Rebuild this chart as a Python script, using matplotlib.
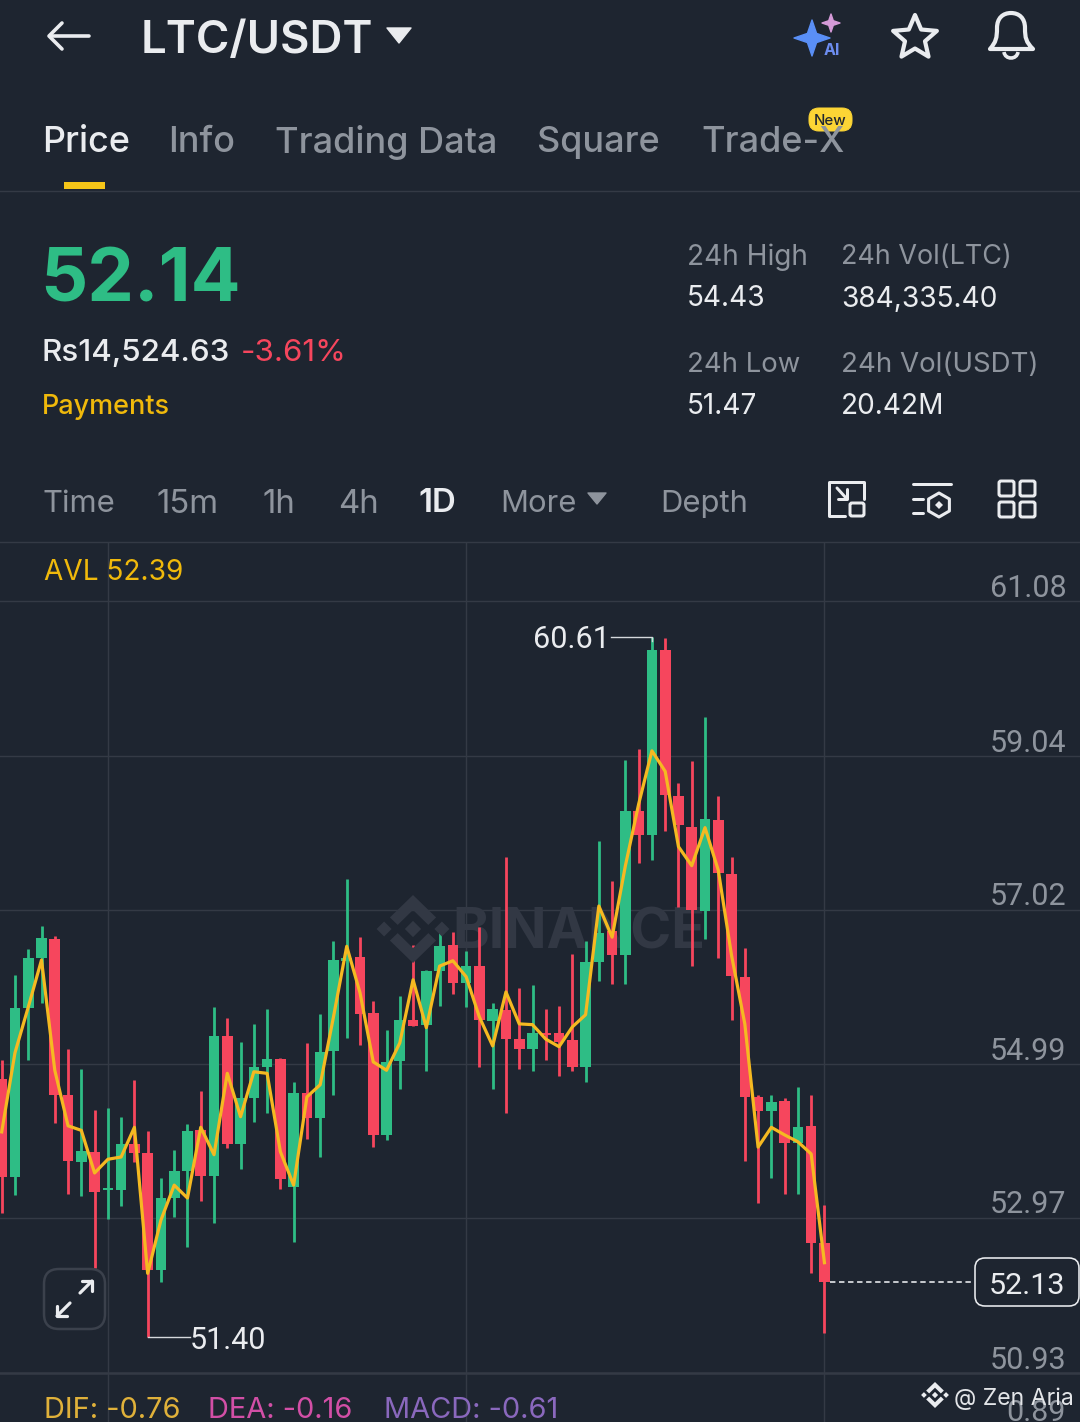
import numpy as np
import matplotlib
matplotlib.use('Agg')
import matplotlib.pyplot as plt
from matplotlib.patches import FancyBboxPatch, Polygon, PathPatch, Rectangle
from matplotlib.path import Path

plt.rcParams['font.family'] = ['Inter', 'DejaVu Sans']

# daily candles, oldest first
opens = [54.80, 53.51, 55.73, 56.39, 56.64, 54.58, 53.70, 53.84, 53.34, 53.34, 53.94, 53.82, 52.28, 53.23, 53.59, 54.12,
         53.52, 55.36, 53.94, 54.55, 54.95, 55.06, 53.38, 54.61, 54.28, 55.16, 56.35, 56.40, 55.66, 54.06, 55.03, 55.57,
         55.51, 56.22, 56.56, 56.06, 56.28, 55.56, 55.70, 55.32, 55.19, 55.40, 55.40, 55.31, 54.95, 56.33, 56.74, 56.43,
         58.32, 58.00, 60.44, 58.52, 58.11, 57.00, 58.20, 57.49, 56.14, 54.56, 54.38, 54.50, 53.95, 54.18, 52.64]
closes = [53.51, 55.73, 56.39, 56.65, 54.58, 53.72, 53.85, 53.31, 53.36, 53.94, 53.82, 52.28, 53.23, 53.59, 54.11, 53.52,
          55.36, 53.94, 54.55, 54.95, 55.06, 53.48, 54.61, 54.28, 55.15, 56.36, 56.39, 55.65, 54.06, 55.02, 55.57, 55.49,
          56.22, 56.54, 56.06, 56.28, 55.57, 55.72, 55.32, 55.19, 55.40, 55.37, 55.28, 54.95, 56.33, 56.72, 56.42, 58.32,
          58.00, 60.44, 58.53, 58.14, 57.02, 58.21, 57.50, 56.15, 54.56, 54.37, 54.49, 53.95, 54.16, 52.64, 52.13]
highs = [55.05, 56.16, 56.50, 56.81, 56.68, 55.19, 54.93, 54.39, 54.41, 54.30, 54.78, 54.11, 53.49, 53.86, 54.20, 54.64,
         55.74, 55.60, 55.28, 55.52, 55.72, 55.07, 54.76, 55.27, 55.65, 56.61, 57.42, 56.66, 55.82, 55.44, 55.89, 56.56,
         56.23, 56.77, 56.73, 56.48, 56.79, 55.79, 57.71, 55.99, 56.03, 55.72, 55.75, 56.44, 56.61, 57.93, 57.40, 58.99,
         59.14, 60.61, 60.60, 58.69, 58.97, 59.56, 58.52, 57.71, 56.52, 54.58, 54.59, 54.55, 54.69, 54.58, 53.14]
lows = [53.03, 53.27, 55.05, 55.79, 54.22, 53.28, 53.26, 52.31, 52.95, 53.13, 53.70, 51.40, 52.13, 52.98, 52.59, 53.19,
        52.90, 53.89, 53.61, 54.23, 54.35, 53.35, 52.65, 54.01, 53.77, 54.58, 55.33, 55.24, 53.90, 53.99, 54.66, 55.49,
        54.90, 55.75, 55.91, 55.74, 54.95, 54.66, 54.35, 54.93, 54.90, 55.05, 54.84, 54.90, 54.76, 56.08, 56.04, 56.05,
        57.63, 57.67, 58.06, 57.06, 56.28, 56.64, 56.39, 55.57, 53.72, 53.16, 53.49, 53.28, 53.29, 52.25, 51.46]
avl = [54.10, 55.14, 55.74, 56.36, 54.91, 54.18, 54.12, 53.56, 53.74, 53.77, 54.16, 52.24, 52.94, 53.40, 53.23, 54.16,
       53.80, 54.87, 54.30, 54.89, 54.87, 53.84, 53.40, 54.56, 54.72, 55.61, 56.54, 55.93, 55.02, 54.91, 55.27, 56.10,
       55.47, 56.28, 56.35, 56.14, 55.61, 55.23, 55.94, 55.52, 55.51, 55.32, 55.22, 55.48, 55.64, 57.07, 56.66, 57.60,
       58.41, 59.11, 58.84, 57.85, 57.60, 58.10, 57.54, 56.42, 55.52, 53.90, 54.16, 54.06, 53.97, 53.81, 52.38]
y_ticks = [61.08, 59.04, 57.02, 54.99, 52.97, 50.93]
last_price = 52.13

BG = '#1e2530'
GREEN = '#2ebd85'
RED = '#f6465d'
YELLOW = '#f0b90b'
GRID = '#343a45'
GRAY = '#8e949d'
WHITE = '#eaecef'
NUM_FONT = 'Roboto'  # even digit widths for the chart numbers

W, H = 1080, 1422
fig = plt.figure(figsize=(W / 100, H / 100), dpi=100, facecolor=BG)

# chart panel runs from y=543 to the bottom of the image
ax = fig.add_axes([0, 0, 1, (H - 543) / H], facecolor=BG)
px_per_unit = (1373 - 601) / (y_ticks[0] - y_ticks[-1])
ax.set_ylim(y_ticks[0] - (H - 601) / px_per_unit, y_ticks[0] + (601 - 543) / px_per_unit)
ax.set_xlim(-1.7 / 13.27, (W - 1.7) / 13.27)
ax.axis('off')

x = np.arange(len(opens))
opens, closes, highs, lows = map(np.array, (opens, closes, highs, lows))
cols = [GREEN if c >= o else RED for o, c in zip(opens, closes)]

for t in y_ticks:
    ax.axhline(t, color=GRID, lw=1.0, zorder=1)
ax.axhline(y_ticks[-1], color=GRID, lw=1.8, zorder=1)
for i in (8, 35, 62):
    ax.axvline(i, color=GRID, lw=1.0, zorder=1)

# faded watermark
ax.text(33.95, 56.71, 'BINANCE', color='#323844', fontsize=40, fontweight='bold', va='center', ha='left', zorder=2)

ax.vlines(x, lows, highs, colors=cols, lw=2.0, zorder=3)
bottoms = np.minimum(opens, closes)
ax.bar(x, np.abs(closes - opens), bottom=bottoms, width=0.8, color=cols, zorder=4)
ax.plot(x, avl, color='#f5b921', lw=2.3, zorder=5, solid_joinstyle='round')

# high / low markers
i_hi = int(np.argmax(highs))
i_lo = int(np.argmin(lows))
ax.plot([i_hi - 3.1, i_hi, i_hi], [highs[i_hi], highs[i_hi], highs[i_hi] - 0.05], color='#d5d8dc', lw=1.0, zorder=5)
ax.text(i_hi - 3.2, highs[i_hi], '60.61', color=WHITE, fontsize=22, family=NUM_FONT, va='center_baseline', ha='right', zorder=6)
ax.plot([i_lo, i_lo + 3.2], [lows[i_lo], lows[i_lo]], color='#d5d8dc', lw=1.0, zorder=5)
ax.text(i_lo + 3.2, lows[i_lo], '51.40', color=WHITE, fontsize=22, family=NUM_FONT, va='center_baseline', ha='left', zorder=6)

# last price
ax.plot([62.4, 73.3], [last_price, last_price], color='#d5d8dc', lw=1.3, ls=(0, (3, 2)), zorder=5)

# y labels sit just above their grid lines
for t in y_ticks:
    ax.text(80.25, t + 0.21, f'{t:.2f}', color=GRAY, fontsize=22, family=NUM_FONT, va='center_baseline', ha='right', zorder=6)

# everything else is screen furniture, drawn in pixel coordinates
ui = fig.add_axes([0, 0, 1, 1], facecolor='none', zorder=5)
ui.set_xlim(0, W)
ui.set_ylim(H, 0)
ui.axis('off')


def txt(px, py, s, size, color=GRAY, weight='normal', ha='left', family=None):
    return ui.text(px, py, s, fontsize=size * 0.72, color=color, fontweight=weight, ha=ha, va='center_baseline',
                   family=family or plt.rcParams['font.family'])


def line(xs, ys, color=WHITE, lw=3.0):
    ui.plot(xs, ys, color=color, lw=lw * 0.72, solid_capstyle='round', solid_joinstyle='round')


def rbox(x0, y0, x1, y1, r, edge, face='none', lw=2.0):
    ui.add_patch(FancyBboxPatch((x0 + r, y0 + r), x1 - x0 - 2 * r, y1 - y0 - 2 * r, boxstyle=f'round,pad={r}',
                                ec=edge, fc=face, lw=lw * 0.72))


def sparkle(cx, cy, r, color):
    a = np.arange(8) * np.pi / 4
    rad = np.where(np.arange(8) % 2 == 0, r, r * 0.36)
    ui.add_patch(Polygon(np.c_[cx + rad * np.cos(a), cy + rad * np.sin(a)], fc=color, ec=color, lw=1, joinstyle='round'))


def binance_logo(cx, cy, s, color):
    def diamond(dx, dy, r):
        ui.add_patch(Polygon([(cx + dx, cy + dy - r), (cx + dx + r, cy + dy), (cx + dx, cy + dy + r), (cx + dx - r, cy + dy)],
                             fc=color, ec='none'))
    diamond(0, 0, s * 0.24)
    diamond(-s * 0.85, 0, s * 0.22)
    diamond(s * 0.85, 0, s * 0.22)
    for sgn in (-1, 1):
        ui.add_patch(Polygon([(cx, cy + sgn * s), (cx + s * 0.68, cy + sgn * s * 0.34), (cx + s * 0.45, cy + sgn * s * 0.12),
                              (cx, cy + sgn * s * 0.56), (cx - s * 0.45, cy + sgn * s * 0.12), (cx - s * 0.68, cy + sgn * s * 0.34)],
                             fc=color, ec='none'))


# header
line([50, 89], [36, 36], lw=3.6)
line([62, 49, 62], [23, 36, 49], lw=3.6)
txt(141, 37, 'LTC/USDT', 45.5, WHITE, 'semibold')
ui.add_patch(Polygon([(387, 28), (411, 28), (399, 43)], fc=WHITE, ec=WHITE, lw=1, joinstyle='round'))
sparkle(812, 38, 18, '#5a8ff6')
sparkle(831, 23, 9, '#d59ad8')
txt(832, 49, 'AI', 16, '#6d8df0', 'bold', ha='center')
ang = -np.pi / 2 + np.arange(10) * np.pi / 5
rad = np.where(np.arange(10) % 2 == 0, 23, 10.5)
ui.add_patch(Polygon(np.c_[915 + rad * np.cos(ang), 38 + rad * np.sin(ang)], fc='none', ec=WHITE, lw=3.0, joinstyle='round'))
bell = Path([(990, 49), (996, 42), (997, 38), (997, 28), (997, 18), (1003, 13), (1011, 13), (1019, 13), (1025, 18), (1025, 28),
             (1025, 38), (1026, 42), (1033, 49), (990, 49)],
            [Path.MOVETO] + [Path.CURVE4] * 12 + [Path.CLOSEPOLY])
ui.add_patch(PathPatch(bell, fc='none', ec=WHITE, lw=3.0, joinstyle='round'))
ui.add_patch(PathPatch(Path([(1004, 52), (1005, 60), (1017, 60), (1018, 52)], [Path.MOVETO] + [Path.CURVE4] * 3),
                       fc='none', ec=WHITE, lw=2.6))

# tabs
txt(42, 139, 'Price', 36, WHITE, 'medium')
for px, s in zip((168, 275, 537, 701), ('Info', 'Trading Data', 'Square', 'Trade-X')):
    txt(px, 139, s, 36, GRAY, 'medium')
ui.add_patch(Rectangle((64, 182), 41, 7, fc='#f5c518', ec='none'))
ui.plot([0, W], [190.5, 190.5], color=GRID, lw=1.0)
rbox(809, 108, 852, 131, 10, '#fcd535', '#fcd535', 1)
txt(830, 119.5, 'New', 15, '#202630', 'medium', ha='center')

# price block
txt(40, 275, '52.14', 74, GREEN, 'bold')
txt(42, 350, 'Rs14,524.63', 31.4, WHITE, 'medium')
txt(241, 350, '-3.61%', 31.4, RED)
txt(42, 404, 'Payments', 27, '#f0b90b', 'medium')
txt(687, 254, '24h High', 28)
txt(687, 296, '54.43', 28, WHITE)
txt(687, 362, '24h Low', 27.5)
txt(687, 404, '51.47', 28, WHITE)
txt(841, 254, '24h Vol(LTC)', 27)
txt(841, 296, '384,335.40', 28, WHITE)
txt(841, 362, '24h Vol(USDT)', 27.7)
txt(841, 404, '20.42M', 28, WHITE)

# interval row
for px, s, fs in zip((42, 156, 262, 338, 500, 660), ('Time', '15m', '1h', '4h', 'More', 'Depth'), (31, 33, 33, 33, 31, 31)):
    txt(px, 501, s, fs)
txt(418, 500, '1D', 33, WHITE, 'semibold')
ui.add_patch(Polygon([(588, 493), (606, 493), (597, 504)], fc=GRAY, ec=GRAY, lw=1, joinstyle='round'))
line([864, 864, 829, 829, 845], [499, 482, 482, 516, 516], lw=3)
rbox(850, 503, 864, 516, 2, WHITE, lw=3)
line([837, 847], [488, 499], lw=3)
line([838, 847, 847], [499, 499, 489], lw=3)
line([913, 951], [484, 484], lw=3)
line([913, 923], [499, 499], lw=3)
line([913, 923], [513, 513], lw=3)
hex_a = -np.pi / 2 + np.arange(6) * np.pi / 3
ui.add_patch(Polygon(np.c_[939 + 12 * np.cos(hex_a), 505 + 12 * np.sin(hex_a)], fc='none', ec=WHITE, lw=2.2, joinstyle='round'))
ui.add_patch(Polygon([(939, 501), (943, 505), (939, 509), (935, 505)], fc=WHITE, ec='none'))
for x0, y0 in ((999, 481), (1020, 481), (999, 502), (1020, 502)):
    rbox(x0, y0, x0 + 15, y0 + 15, 2, WHITE, lw=3)
ui.plot([0, W], [542, 542], color=GRID, lw=1.0)

# chart overlays
binance_logo(413, 929, 34, '#323844')
txt(44, 570, 'AVL 52.39', 28, '#f0b90b')
rbox(975, 1258, 1079, 1306, 10, WHITE, BG, 1.6)
txt(1027, 1283, '52.13', 30.5, WHITE, ha='center', family=NUM_FONT)
rbox(44, 1269, 105, 1329, 15, '#3b414c', 'none', 2.5)
line([80, 92], [1293, 1281], lw=3.2)
line([82, 92, 92], [1281, 1281, 1291], lw=3.2)
line([57, 70], [1316, 1303], lw=3.2)
line([57, 57, 67], [1306, 1316, 1316], lw=3.2)

# MACD row, runs off the bottom of the image
txt(44, 1407, 'DIF: -0.76', 29, '#e0b13a')
txt(208, 1407, 'DEA: -0.16', 29, '#d24fa6')
txt(384, 1407, 'MACD: -0.61', 29, '#8a68bd')
txt(1066, 1410, '0.89', 30.5, GRAY, ha='right', family=NUM_FONT)
binance_logo(935, 1395, 13, WHITE)
txt(954, 1396, '@ Zen Aria', 23, '#e3e5e8')

fig.savefig('out.png', dpi=100, facecolor=BG)
